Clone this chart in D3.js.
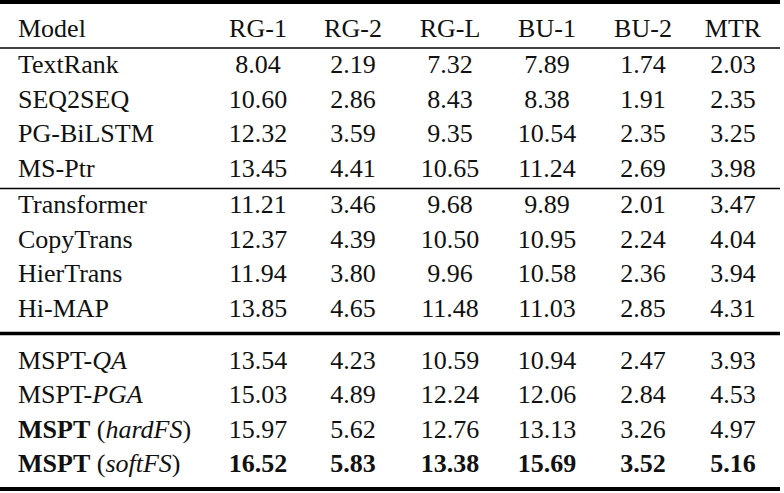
<!DOCTYPE html>
<html>
<head>
<meta charset="utf-8">
<script src="https://cdn.jsdelivr.net/npm/d3@7"></script>
<style>
  body { margin: 0; background: #fff; }
  svg text { font-family: "Liberation Serif", "DejaVu Serif", serif; fill: #111; }
</style>
</head>
<body>
<svg width="784" height="493"></svg>
<script>
// table data
var columns = ['RG-1', 'RG-2', 'RG-L', 'BU-1', 'BU-2', 'MTR'];
var models = ['TextRank', 'SEQ2SEQ', 'PG-BiLSTM', 'MS-Ptr',
  'Transformer', 'CopyTrans', 'HierTrans', 'Hi-MAP',
  'MSPT-QA', 'MSPT-PGA', 'MSPT (hardFS)', 'MSPT (softFS)'];
var groups = [0, 0, 0, 0, 1, 1, 1, 1, 2, 2, 2, 2];
var rg1 = [8.04, 10.60, 12.32, 13.45, 11.21, 12.37, 11.94, 13.85, 13.54, 15.03, 15.97, 16.52];
var rg2 = [2.19, 2.86, 3.59, 4.41, 3.46, 4.39, 3.80, 4.65, 4.23, 4.89, 5.62, 5.83];
var rgl = [7.32, 8.43, 9.35, 10.65, 9.68, 10.50, 9.96, 11.48, 10.59, 12.24, 12.76, 13.38];
var bu1 = [7.89, 8.38, 10.54, 11.24, 9.89, 10.95, 10.58, 11.03, 10.94, 12.06, 13.13, 15.69];
var bu2 = [1.74, 1.91, 2.35, 2.69, 2.01, 2.24, 2.36, 2.85, 2.47, 2.84, 3.26, 3.52];
var mtr = [2.03, 2.35, 3.25, 3.98, 3.47, 4.04, 3.94, 4.31, 3.93, 4.53, 4.97, 5.16];
var boldRow = 11;

var series = [rg1, rg2, rgl, bu1, bu2, mtr];
var fmt = d3.format('.2f');
var svg = d3.select('svg');
var fs = 26;

var x = d3.scaleOrdinal().domain(columns).range([258, 353, 450, 547, 643, 733]);
var rowStep = d3.scaleLinear().domain([0, 11]).range([73, 73 + 11 * 34.5]);
var groupGap = [0, 2, 19.5];
function rowY(i) { return rowStep(i) + groupGap[groups[i]]; }

// rules
var rules = [
  {y: 2, w: 4}, {y: 48, w: 1.3}, {y: 188.5, w: 1.3}, {y: 333.5, w: 3.5}, {y: 489, w: 4}
];
svg.selectAll('line.rule').data(rules).enter().append('line')
  .attr('class', 'rule')
  .attr('x1', 0).attr('x2', 780)
  .attr('y1', function(d) { return d.y; }).attr('y2', function(d) { return d.y; })
  .attr('stroke', '#000').attr('stroke-width', function(d) { return d.w; });

// header
svg.append('text').attr('x', 18).attr('y', 37).attr('font-size', fs).text('Model');
svg.selectAll('text.head').data(columns).enter().append('text')
  .attr('class', 'head')
  .attr('x', function(d) { return x(d); }).attr('y', 37)
  .attr('text-anchor', 'middle').attr('font-size', fs)
  .text(function(d) { return d; });

// model names
models.forEach(function(m, i) {
  var t = svg.append('text').attr('x', 18).attr('y', rowY(i)).attr('font-size', fs);
  var mm = m.match(/^MSPT \((.*)\)$/);
  if (mm) {
    t.append('tspan').attr('font-weight', 'bold').text('MSPT');
    t.append('tspan').text(' (');
    t.append('tspan').attr('font-style', 'italic').text(mm[1]);
    t.append('tspan').text(')');
  } else if (m.indexOf('MSPT-') === 0) {
    t.append('tspan').text('MSPT-');
    t.append('tspan').attr('font-style', 'italic').text(m.slice(5));
  } else {
    t.text(m);
  }
});

// values
series.forEach(function(vals, c) {
  svg.selectAll('text.c' + c).data(vals).enter().append('text')
    .attr('class', 'c' + c)
    .attr('x', x(columns[c]))
    .attr('y', function(d, i) { return rowY(i); })
    .attr('text-anchor', 'middle').attr('font-size', fs)
    .attr('font-weight', function(d, i) { return i === boldRow ? 'bold' : 'normal'; })
    .text(function(d) { return fmt(d); });
});
</script>
</body>
</html>
